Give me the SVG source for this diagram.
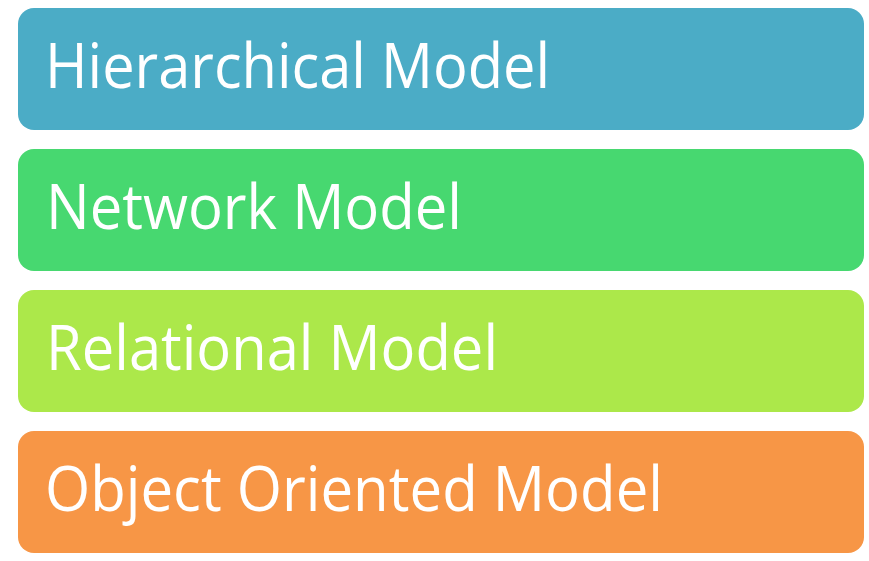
<svg xmlns="http://www.w3.org/2000/svg" width="869" height="561" viewBox="0 0 869 561">
<style>
.box{stroke:none}
.lbl{font-family:"Open Sans","Noto Sans","Liberation Sans",sans-serif;font-size:62px;fill:#ffffff}
</style>
<rect width="869" height="561" fill="#ffffff"/>
<g id="connectors"></g>
<g id="hierarchical">
<rect class="box" x="18" y="8" width="846" height="122" rx="16" fill="#4BACC6"/>
<text class="lbl" x="45" y="88" textLength="505" lengthAdjust="spacingAndGlyphs">Hierarchical Model</text>
</g>
<g id="network">
<rect class="box" x="18" y="149" width="846" height="122" rx="16" fill="#47D870"/>
<text class="lbl" x="46" y="229" textLength="416" lengthAdjust="spacingAndGlyphs">Network Model</text>
</g>
<g id="relational">
<rect class="box" x="18" y="290" width="846" height="122" rx="16" fill="#ACE84A"/>
<text class="lbl" x="46" y="370" textLength="452" lengthAdjust="spacingAndGlyphs">Relational Model</text>
</g>
<g id="object-oriented">
<rect class="box" x="18" y="431" width="846" height="122" rx="16" fill="#F79646"/>
<text class="lbl" x="45" y="511" textLength="618" lengthAdjust="spacingAndGlyphs">Object Oriented Model</text>
</g>
</svg>
